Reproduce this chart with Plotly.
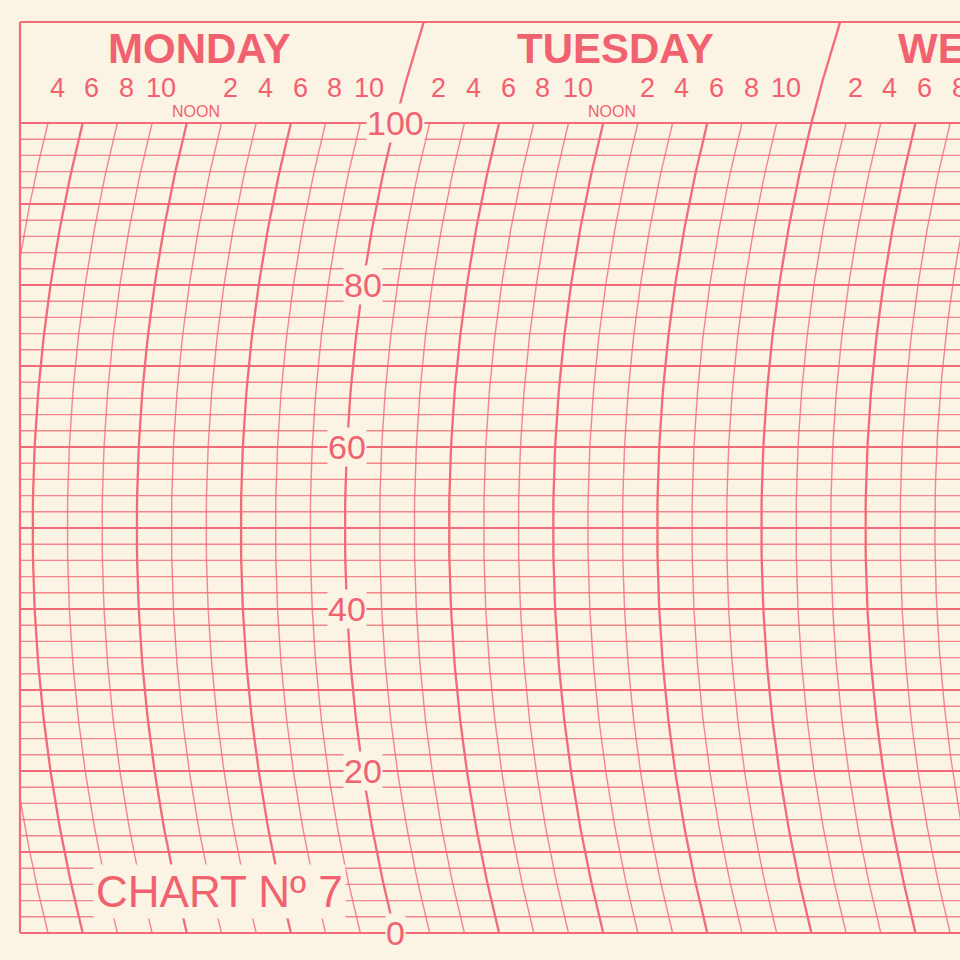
import numpy as np
import plotly.graph_objects as go

# ---------------- data (chart paper content) ----------------
days = ["MONDAY", "TUESDAY", "WEDNESDAY"]
hour_labels = ["2", "4", "6", "8", "10", "", "2", "4", "6", "8", "10"]  # every 2 h, noon blank
noon_label = "NOON"
value_ticks = [0, 20, 40, 60, 80, 100]
value_minor_step = 2
value_major_step = 10
hour_step = 2
hour_bold_step = 6
chart_title = "CHART Nº 7"

# ---------------- geometry / style ----------------
W = H = 960
PXH = 17.35        # pixels per hour
PXY = 8.1          # pixels per value unit
Y0_PX = 933        # pixel row of value 0
MID_PX = 345       # pixel column of Monday 24:00 at value 50
R = 1665.0         # radius of time arcs in pixels
FRAME_PX = 20
HEADER_TOP_PX = 22

PAPER = "#FBF3E3"
LINE = "rgb(243,106,120)"
LINE_THIN = "rgba(243,106,120,0.80)"
TEXT = "rgb(241,98,112)"
FONT = "Liberation Sans"

x0 = 24 - MID_PX / PXH
x1 = 24 + (W - MID_PX) / PXH
y0 = -(H - Y0_PX) / PXY
y1 = Y0_PX / PXY
frame_x = x0 + FRAME_PX / PXH
header_top = (Y0_PX - HEADER_TOP_PX) / PXY


def off(y):
    dy = (np.asarray(y, dtype=float) - 50.0) * PXY
    return (R - np.sqrt(R * R - dy * dy)) / PXH


def arc_xy(h, ya, yb, n=120):
    ys = np.linspace(ya, yb, n)
    return list(h + off(ys)), list(ys)


def arc_pieces(h, ylo=0.0, yhi=100.0):
    d = (frame_x - h) * PXH
    if d <= 0:
        return [arc_xy(h, ylo, yhi)]
    if d >= R:
        return []
    dyv = np.sqrt(R * R - (R - d) ** 2) / PXY
    pieces = []
    if 50 - dyv > ylo:
        pieces.append(arc_xy(h, ylo, min(50 - dyv, yhi)))
    if 50 + dyv < yhi:
        pieces.append(arc_xy(h, max(50 + dyv, ylo), yhi))
    return pieces


fig = go.Figure()


def add_lines(pieces, color, width):
    xs, ys = [], []
    for px, py in pieces:
        xs += px + [None]
        ys += py + [None]
    fig.add_trace(go.Scatter(x=xs, y=ys, mode="lines",
                             line=dict(color=color, width=width),
                             hoverinfo="skip", showlegend=False))


# horizontal value lines
minor_h, major_h = [], []
for v in range(0, 101, value_minor_step):
    seg = ([frame_x, x1 + 1], [v, v])
    (major_h if v % value_major_step == 0 else minor_h).append(seg)
add_lines(minor_h, LINE_THIN, 1.4)
add_lines(major_h, LINE, 2.0)

# time arcs
thin_a, bold_a, day_a = [], [], []
h = 0
while h <= x1 + 1:
    pieces = arc_pieces(h)
    if h % 24 == 0:
        day_a += pieces
        day_a += arc_pieces(h, 100.0, header_top)
    elif h % hour_bold_step == 0:
        bold_a += pieces
    else:
        thin_a += pieces
    h += hour_step
add_lines(thin_a, LINE_THIN, 1.4)
add_lines(bold_a, LINE, 2.3)
add_lines(day_a, LINE, 2.3)

# frame
add_lines([([frame_x, frame_x], [0, header_top]),
           ([frame_x, x1 + 1], [header_top, header_top])], LINE, 2.2)

annotations = []


def text_at(x, y, text, size, xshift=0, **kw):
    # keep the anchor inside the axis range; move the text with xshift instead
    lim = x1 - 0.05
    if x > lim:
        xshift += (x - lim) * PXH
        x = lim
    annotations.append(dict(x=x, y=y, text=text, showarrow=False, xshift=xshift,
                            xanchor="center", yanchor="middle",
                            font=dict(family=FONT, size=size, color=TEXT), **kw))


# day names
y_day = (Y0_PX - 48) / PXY
for i, name in enumerate(days):
    hn = 24 * i + 12
    text_at(hn + float(off(y_day)), y_day, "<b>%s</b>" % name, 42, xshift=-8)
# hour labels
y_hr = (Y0_PX - 88) / PXY
y_noon = (Y0_PX - 111) / PXY
for i in range(len(days)):
    for k, lab in enumerate(hour_labels):
        hh = 24 * i + hour_step * (k + 1)
        xx = hh + float(off(y_hr))
        if lab and frame_x + 1.8 < xx < x1 + 1.5:
            text_at(xx, y_hr, lab, 27)
        if not lab and hh < x1:
            text_at(hh + float(off(y_noon)), y_noon, noon_label, 16, xshift=6)
# value labels on Monday/Tuesday boundary
for v in value_ticks:
    text_at(24 + float(off(v)), v, str(v), 34, bgcolor=PAPER, borderpad=0)
# chart number
annotations.append(dict(x=219 / W, y=1 - 891 / H, xref="paper", yref="paper",
                        xanchor="center", yanchor="middle",
                        text=chart_title, showarrow=False, bgcolor=PAPER, borderpad=2,
                        font=dict(family=FONT, size=44, color=TEXT)))

fig.update_layout(
    width=W, height=H, margin=dict(l=0, r=0, t=0, b=0),
    paper_bgcolor=PAPER, plot_bgcolor=PAPER,
    xaxis=dict(range=[x0, x1], visible=False, fixedrange=True),
    yaxis=dict(range=[y0, y1], visible=False, fixedrange=True),
    annotations=annotations, showlegend=False,
)
fig.write_html("out.html",
               config={"displayModeBar": False},
               post_script="document.body.style.margin='0';"
                           "document.body.style.overflow='hidden';"
                           "document.body.style.background='%s';" % PAPER)
